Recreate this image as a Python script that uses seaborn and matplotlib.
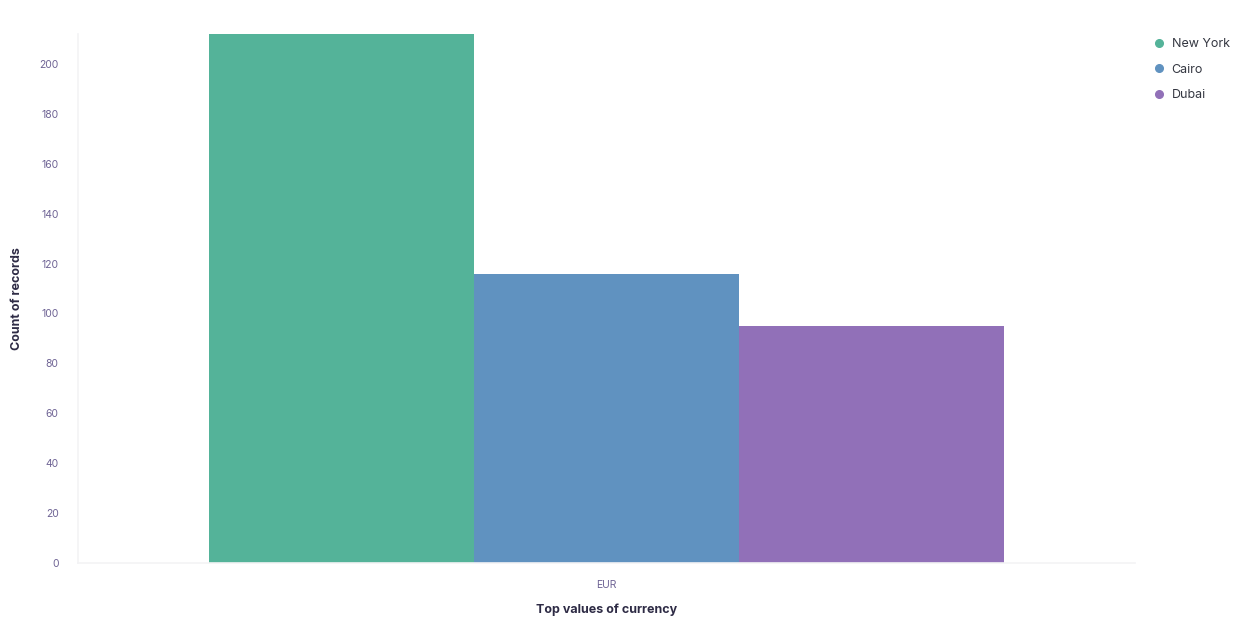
import matplotlib
matplotlib.use("Agg")
import matplotlib.pyplot as plt
from matplotlib.lines import Line2D
import seaborn as sns
import pandas as pd

categories = ["EUR"]
cities = ["New York", "Cairo", "Dubai"]
counts = [212, 116, 95]
colors = ["#54B399", "#6092C0", "#9170B8"]

df = pd.DataFrame({"currency": categories * len(cities), "city": cities, "count": counts})

sns.set_theme(style="white")
plt.rcParams["font.family"] = ["Inter", "DejaVu Sans"]

fig = plt.figure(figsize=(12.42, 6.24), dpi=100)
ax = fig.add_axes([78/1242, 1-563/624, (1135-78)/1242, (563-34)/624])

sns.barplot(data=df, x="currency", y="count", hue="city", hue_order=cities,
            palette=colors, saturation=1, width=0.752, ax=ax, legend=False,
            linewidth=0, errorbar=None)

ax.set_xlim(-0.5, 0.5)
ax.set_ylim(0, 212)
ax.set_yticks(range(0, 201, 20))
tick_color = "#6E6394"
ax.tick_params(axis="both", length=0, labelsize=7.5, colors=tick_color, pad=14)
ax.tick_params(axis="x", pad=12)
for s in ["top", "right"]:
    ax.spines[s].set_visible(False)
for s in ["left", "bottom"]:
    ax.spines[s].set_color("#F3F3F5")
    ax.spines[s].set_linewidth(1.2)

ax.set_xlabel("Top values of currency", fontsize=9, fontweight="bold", color="#2E2B45", labelpad=10)
ax.set_ylabel("Count of records", fontsize=9, fontweight="bold", color="#2E2B45", labelpad=12)

handles = [Line2D([0], [0], marker="o", linestyle="", markersize=5.5,
                  markerfacecolor=c, markeredgecolor=c) for c in colors]
fig.legend(handles, cities, loc="upper left", bbox_to_anchor=(1146/1242, 1-33/624),
           frameon=False, fontsize=9, labelcolor="#343741", handletextpad=0.45,
           labelspacing=1.1, borderaxespad=0, handlelength=1.2)

fig.savefig("out.png", dpi=100)
